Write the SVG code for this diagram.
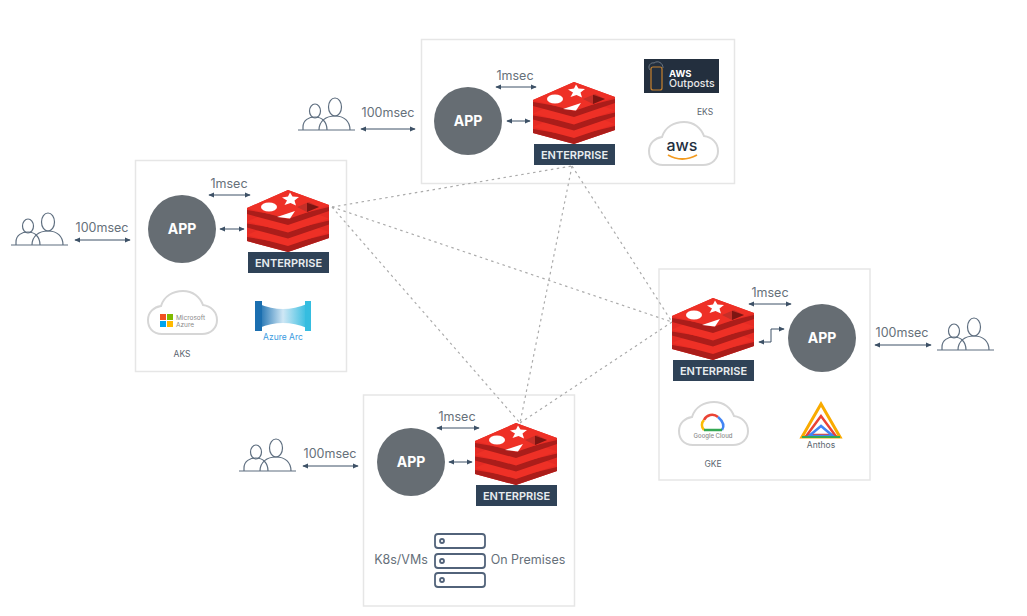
<svg xmlns="http://www.w3.org/2000/svg" width="1027" height="616" viewBox="0 0 1027 616">
<style>
text{font-family:Inter,"Liberation Sans",sans-serif;fill:#5c6670;text-anchor:middle}
.panel{fill:#fff;stroke:#e6e6e6;stroke-width:1.5}
.lat{font-size:12.5px;fill:#66707a}
.small{font-size:8.500px}
.app{fill:#666d73}
.apptxt{fill:#fff;font-size:14px;font-weight:700}
.arrow{fill:none;stroke:#3d5166;stroke-width:1;marker-start:url(#ah);marker-end:url(#ah)}
.dot{fill:none;stroke:#ababab;stroke-width:1.2;stroke-dasharray:2.500 3.500}
.cloud{fill:#fff;stroke:#d6d6d6;stroke-width:2}
.ppl{fill:none;stroke:#5f6f80;stroke-width:1.200}
.srv{fill:#fff;stroke:#52637a;stroke-width:1.800}
.side{fill:#ab1d1a}
.face{fill:#ee3026}
</style>
<defs>
<marker id="ah" viewBox="0 0 8 8" refX="7" refY="4" markerWidth="6" markerHeight="6" orient="auto-start-reverse" markerUnits="userSpaceOnUse"><path d="M0,0.500L8,4L0,7.500Z" fill="#3d5166"/></marker>
<g id="layer"><path class="side" d="M0,20V24L41,35L82,21V17L41,27Z"/><path class="face" d="M0,18L41,0L82,15L41,29Z"/></g>
<g id="redis">
<path d="M0,18L41,0L82,15V48L41,62L0,51Z" fill="#e52b24"/>
<use href="#layer" y="27"/>
<use href="#layer" y="13.500"/>
<use href="#layer"/>
<ellipse cx="22" cy="17" rx="8" ry="4.500" fill="#fff"/>
<path d="M43,2.500L45.500,6.500L52,7L47.500,10.500L49,15.500L43.500,13L37.500,15L40,10.500L35,7.500L41,6.500Z" fill="#fff"/>
<path d="M30,27L48,21L43,28.500Z" fill="#fff"/>
<path d="M50,17L62,12L72,17L60,22Z" fill="#c52f28"/><path d="M60,12.800L72,17L60,22Z" fill="#7d1512"/>
<rect x="1" y="62" width="81" height="21" fill="#2f4257"/>
<text x="41.500" y="77" style="fill:#e8ecef;font-size:11px;font-weight:600">ENTERPRISE</text>
</g>
<path id="cloudp" class="cloud" d="M15,44C5,44 1,37 1,30C1,22 7,17 14,16C17,6 26,1 36,1C46,1 53,7 56,15C64,16 70,22 70,30C70,38 64,44 55,44Z"/>
<g id="people" class="ppl">
<path d="M0,0H57"/><ellipse cx="17" cy="-19" rx="5.500" ry="7"/><ellipse cx="37" cy="-23" rx="6.500" ry="9"/>
<path d="M5,0V-3C5,-10 11,-13 17,-13C24,-13 29,-8 29,0"/><path d="M21,0C21,-9 28,-14 37,-14C46,-14 52,-9 52,0"/>
</g>
<linearGradient id="arcg"><stop offset="0" stop-color="#1b6fb0"/><stop offset=".5" stop-color="#cfe7f5"/><stop offset="1" stop-color="#35bde0"/></linearGradient>
</defs>
<rect width="1027" height="616" fill="#fff"/>

<g id="panels">
<rect id="panel-top" class="panel" x="421.500" y="39.500" width="313" height="144"/>
<rect id="panel-left" class="panel" x="135.500" y="160.500" width="211" height="211"/>
<rect id="panel-right" class="panel" x="659" y="269" width="211" height="211"/>
<rect id="panel-bottom" class="panel" x="363.500" y="395" width="211" height="211"/>
</g>

<g id="connectors">
<path class="dot" d="M332,207L572,166"/>
<path class="dot" d="M332,207L672,322"/>
<path class="dot" d="M332,207L520,423"/>
<path class="dot" d="M572,166L672,322"/>
<path class="dot" d="M572,166L520,423"/>
<path class="dot" d="M672,322L520,423"/>
<path class="arrow" d="M496,87H536"/><path class="arrow" d="M361,129H415"/><path class="arrow" d="M507,121H530"/>
<path class="arrow" d="M209,195H250"/><path class="arrow" d="M75,240H130"/><path class="arrow" d="M220,229H244"/>
<path class="arrow" d="M749,304H791"/><path class="arrow" d="M875,345H931"/><path class="arrow" d="M759,342H771V329H784"/>
<path class="arrow" d="M437,428H479"/><path class="arrow" d="M303,466H358"/><path class="arrow" d="M449,462H472"/>
</g>

<g id="node-top">
<circle class="app" cx="468" cy="121" r="34"/><text class="apptxt" x="468" y="126">APP</text>
<use href="#redis" x="533" y="82"/>
<text class="lat" x="515" y="80">1msec</text>
<rect x="644" y="59" width="75" height="34" fill="#232f3e"/>
<path d="M650,70C647,66 651,62 654,63C658,60 663,63 663,68" fill="none" stroke="#7d8894" stroke-width=".8"/>
<rect x="651" y="67" width="11" height="23" rx="2" fill="none" stroke="#c8822e" stroke-width="1.200"/>
<text x="669" y="77" style="fill:#fff;font-size:9.500px;font-weight:700;text-anchor:start">AWS</text>
<text x="669" y="87" style="fill:#e8e8e8;font-size:10.500px;font-weight:500;text-anchor:start">Outposts</text>
<text class="small" x="705" y="115">EKS</text>
<use href="#cloudp" x="648" y="121"/>
<text x="682" y="151" style="fill:#232f3e;font-size:16px;font-weight:500">aws</text>
<path d="M668,155Q682,163 697,155" fill="none" stroke="#f29a1f" stroke-width="1.800"/>
</g>

<g id="node-left">
<circle class="app" cx="182" cy="229" r="34"/><text class="apptxt" x="182" y="234">APP</text>
<use href="#redis" x="247" y="190"/>
<text class="lat" x="229" y="188">1msec</text>
<use href="#cloudp" x="147" y="290"/>
<rect x="160" y="314" width="6" height="6" fill="#f25022"/><rect x="167" y="314" width="6" height="6" fill="#7fba00"/><rect x="160" y="321" width="6" height="6" fill="#00a4ef"/><rect x="167" y="321" width="6" height="6" fill="#ffb900"/>
<text x="176" y="320" style="font-size:6.500px;text-anchor:start;fill:#8a8a8a">Microsoft</text>
<text x="176" y="327" style="font-size:6.500px;text-anchor:start;fill:#8a8a8a">Azure</text>
<text class="small" x="182" y="357">AKS</text>
<path d="M259,304Q283,314 307,304V328Q283,318 259,328Z" fill="url(#arcg)"/>
<rect x="255" y="301" width="7" height="30" fill="#1b6fb0"/><rect x="305" y="301" width="6" height="30" fill="#35bde0"/>
<text x="283" y="340" style="font-size:8.500px;fill:#3a9be0">Azure Arc</text>
</g>

<g id="node-right">
<circle class="app" cx="822" cy="338" r="34"/><text class="apptxt" x="822" y="343">APP</text>
<use href="#redis" x="672" y="298"/>
<text class="lat" x="770" y="297">1msec</text>
<use href="#cloudp" x="678" y="401"/>
<path d="M704,430A7,7 0 0 1 704,420" fill="none" stroke="#fbbc04" stroke-width="2.500"/>
<path d="M704,420A9,9 0 0 1 718,417" fill="none" stroke="#ea4335" stroke-width="2.500"/>
<path d="M718,417Q726,424 722,430" fill="none" stroke="#4285f4" stroke-width="2.500"/>
<path d="M704,430H722" fill="none" stroke="#34a853" stroke-width="2.500"/>
<text x="713" y="438" style="font-size:6px;fill:#8a8a8a;font-weight:500">Google Cloud</text>
<text class="small" x="713" y="467">GKE</text>
<path d="M821,404L802,437H840Z" fill="none" stroke="#f9ab00" stroke-width="3"/>
<path d="M821,416L807,435H835Z" fill="none" stroke="#ea4335" stroke-width="2.500"/>
<path d="M821,426L809,436H833Z" fill="none" stroke="#4285f4" stroke-width="2.500"/>
<path d="M802,437H840" fill="none" stroke="#34a853" stroke-width="2"/>
<text class="small" x="821" y="448">Anthos</text>
</g>

<g id="node-bottom">
<circle class="app" cx="411" cy="462" r="34"/><text class="apptxt" x="411" y="467">APP</text>
<use href="#redis" x="475" y="423"/>
<text class="lat" x="457" y="421">1msec</text>
<rect class="srv" x="435" y="534" width="50" height="14" rx="3"/><rect class="srv" x="435" y="554" width="50" height="14" rx="3"/><rect class="srv" x="435" y="573" width="50" height="14" rx="3"/>
<circle class="srv" cx="442" cy="541" r="2"/><circle class="srv" cx="442" cy="561" r="2"/><circle class="srv" cx="442" cy="580" r="2"/>
<text class="lat" x="401" y="564">K8s/VMs</text>
<text class="lat" x="528" y="564">On Premises</text>
</g>

<g id="users-top"><use href="#people" x="298" y="130"/><text class="lat" x="388" y="117">100msec</text></g>
<g id="users-left"><use href="#people" x="11" y="245"/><text class="lat" x="102" y="232">100msec</text></g>
<g id="users-right"><use href="#people" x="937" y="350"/><text class="lat" x="902" y="337">100msec</text></g>
<g id="users-bottom"><use href="#people" x="239" y="471"/><text class="lat" x="330" y="458">100msec</text></g>
</svg>
